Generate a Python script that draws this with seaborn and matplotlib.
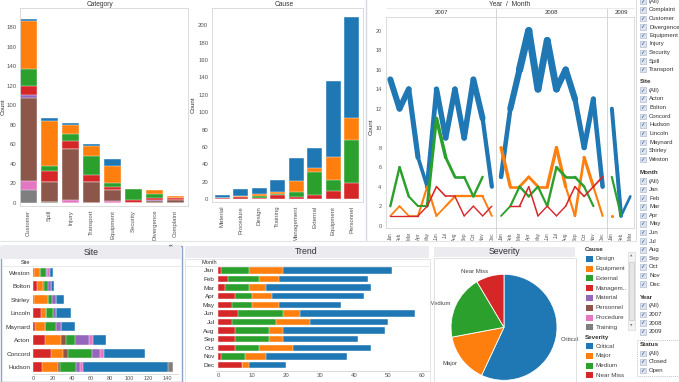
import numpy as np
import matplotlib
matplotlib.use("Agg")
import matplotlib.pyplot as plt
import matplotlib.transforms as mtransforms
from matplotlib.patches import Rectangle
from matplotlib.lines import Line2D
import seaborn as sns

# ----------------------------------------------------------
# Data
# ----------------------------------------------------------
causes = ["Design", "Equipment", "External", "Management",
          "Material", "Personnel", "Procedure", "Training"]
cause_legend_labels = ["Design", "Equipment", "External", "Managem..",
                       "Material", "Personnel", "Procedure", "Training"]
severities = ["Critical", "Major", "Medium", "Near Miss"]
months = ["Jan", "Feb", "Mar", "Apr", "May", "Jun",
          "Jul", "Aug", "Sep", "Oct", "Nov", "Dec"]

# Category chart (count by category, stacked by cause)
categories = ["Customer", "Spill", "Injury", "Transport",
              "Equipment", "Security", "Divergence", "Complaint"]
cat_design = [2, 3, 2, 2, 7, 0, 0, 0]
cat_equipment = [49, 46, 10, 10, 18, 0, 4, 2]
cat_external = [17, 5, 7, 20, 4, 11, 4, 0]
cat_management = [10, 12, 8, 7, 3, 3, 2, 2]
cat_material = [3, 0, 0, 0, 0, 0, 1, 0]
cat_personnel = [85, 20, 52, 21, 11, 0, 2, 3]
cat_procedure = [9, 0, 3, 0, 2, 0, 0, 0]
cat_training = [13, 1, 0, 0, 0, 0, 0, 0]

# Cause chart (count by cause, stacked by severity)
cause_bars = ["Material", "Procedure", "Design", "Training",
              "Management", "External", "Equipment", "Personnel"]
cause_critical = [4, 9, 7, 14, 26, 23, 87, 117]
cause_major = [0, 1, 3, 2, 13, 5, 27, 25]
cause_medium = [0, 0, 2, 1, 6, 26, 13, 50]
cause_near_miss = [1, 2, 1, 5, 2, 5, 9, 18]

# Year / Month lines (count by severity)
nan = np.nan
crit_2007 = [15, 12, 14, 7, 4, 14, 9, 14, 9, 15, 11, 4]
major_2007 = [1, 2, 1, 1, 4, 1, 2, 3, 3, 3, 3, 1]
medium_2007 = [2, 6, 3, 2, 2, 11, 7, 5, 5, 3, 5, nan]
near_2007 = [1, 1, 1, 1, 2, 4, 3, 3, 1, 2, 1, 2]
crit_2008 = [5, 12, 16, 20, 14, 19, 14, 16, 13, 8, 13, 4]
major_2008 = [8, 4, 4, 5, 4, 4, 8, 4, 1, 7, 4, 1]
medium_2008 = [1, 2, 4, 3, 4, 2, 6, 5, 5, 4, 2, nan]
near_2008 = [nan, 2, 2, 4, 1, 2, 1, 2, 4, 3, 4, 5]
crit_2009 = [12, 1, 3]
major_2009 = [1, nan, nan]
medium_2009 = [5, 1, nan]
near_2009 = [nan, nan, nan]
years = ["2007", "2008", "2009"]

# Site chart (count by site, stacked by cause)
sites = ["Weston", "Bolton", "Shirley", "Lincoln",
         "Maynard", "Acton", "Concord", "Hudson"]
site_management = [1, 4, 1, 8, 2, 12, 19, 9]
site_equipment = [6, 6, 14, 5, 10, 17, 12, 17]
site_personnel = [0, 1, 0, 0, 0, 5, 5, 2]
site_external = [6, 4, 5, 8, 12, 10, 25, 17]
site_material = [1, 3, 4, 3, 5, 14, 9, 4]
site_procedure = [3, 0, 0, 0, 0, 4, 4, 3]
site_design = [4, 4, 8, 15, 15, 14, 43, 89]
site_training = [0, 0, 0, 0, 0, 0, 0, 5]

# Trend chart (count by month, stacked by severity)
trend_near_miss = [1, 3, 2, 5, 4, 6, 4, 5, 5, 5, 1, 7]
trend_medium = [8, 9, 7, 5, 6, 13, 13, 10, 10, 7, 7, 0]
trend_major = [10, 6, 5, 6, 8, 5, 10, 4, 4, 10, 6, 2]
trend_critical = [32, 26, 31, 27, 18, 34, 23, 30, 22, 23, 24, 11]

# Quick filter lists
filter_category = ["(All)", "Complaint", "Customer", "Divergence", "Equipment",
                   "Injury", "Security", "Spill", "Transport"]
filter_site = ["(All)", "Acton", "Bolton", "Concord", "Hudson",
               "Lincoln", "Maynard", "Shirley", "Weston"]
filter_month = ["(All)"] + months
filter_year = ["(All)", "2007", "2008", "2009"]
filter_status = ["(All)", "Closed", "Open"]

cause_colors = dict(zip(causes, ["#1f77b4", "#ff7f0e", "#2ca02c", "#d62728",
                                 "#9467bd", "#8c564b", "#e377c2", "#7f7f7f"]))
sev_colors = dict(zip(severities, ["#1f77b4", "#ff7f0e", "#2ca02c", "#d62728"]))

# ----------------------------------------------------------
# Figure + helpers (pixel coordinates, origin top-left)
# ----------------------------------------------------------
sns.set_style("white")
plt.rcParams["font.family"] = ["Liberation Sans", "DejaVu Sans"]

W, H = 679, 382
fig = plt.figure(figsize=(W / 100, H / 100), dpi=100)
TXT = "#333333"
GRID = "#d6d6d6"


def box(x0, y0, x1, y1):
    return [x0 / W, 1 - y1 / H, (x1 - x0) / W, (y1 - y0) / H]


def ftext(x, y, s, **kw):
    fig.text(x / W, 1 - y / H, s, **kw)


def frect(x0, y0, x1, y1, **kw):
    fig.add_artist(Rectangle((x0 / W, 1 - y1 / H), (x1 - x0) / W, (y1 - y0) / H,
                             transform=fig.transFigure, **kw))


def fline(xs, ys, **kw):
    fig.add_artist(Line2D([x / W for x in xs], [1 - y / H for y in ys],
                          transform=fig.transFigure, **kw))


def style_ax(ax, size=4.3):
    for s in ax.spines.values():
        s.set_color(GRID)
        s.set_linewidth(0.6)
    ax.tick_params(labelsize=size, colors="#555555", length=1.5, width=0.4, pad=1.5)
    ax.set_xlabel("")
    ax.set_ylabel("")


def stacked(ax, cats, layers, colors, horizontal=False, width=0.8):
    cum = np.cumsum(np.array(layers, dtype=float), axis=0)
    for vals, col in zip(cum[::-1], colors[::-1]):
        if horizontal:
            sns.barplot(x=vals, y=cats, order=cats, orient="h", color=col, width=width,
                        saturation=1, errorbar=None, edgecolor="white", linewidth=0.3, ax=ax)
        else:
            sns.barplot(x=cats, y=vals, order=cats, color=col, width=width,
                        saturation=1, errorbar=None, edgecolor="white", linewidth=0.3, ax=ax)


# ----------------------------------------------------------
# 1. Category
# ----------------------------------------------------------
ax1 = fig.add_axes(box(20, 8, 188, 205.7))
cat_layers = [cat_training, cat_procedure, cat_personnel, cat_material,
              cat_management, cat_external, cat_equipment, cat_design]
cat_cols = [cause_colors[c] for c in ["Training", "Procedure", "Personnel", "Material",
                                      "Management", "External", "Equipment", "Design"]]
stacked(ax1, categories, cat_layers, cat_cols, width=0.82)
ax1.set_xlim(-0.41, 7.59)
ax1.set_ylim(-3, 199.5)
ax1.set_yticks(range(0, 181, 20))
style_ax(ax1)
ax1.tick_params(axis="x", labelrotation=90)
ax1.tick_params(axis="y", pad=1)
ftext(100, 4, "Category", fontsize=4.8, color=TXT, ha="center", va="center")
ftext(3, 107, "Count", fontsize=4.5, color=TXT, rotation=90, ha="center", va="center")

# ----------------------------------------------------------
# 2. Cause
# ----------------------------------------------------------
ax2 = fig.add_axes(box(211.7, 8.3, 363, 201.7))
stacked(ax2, cause_bars, [cause_near_miss, cause_medium, cause_major, cause_critical],
        [sev_colors[s] for s in ["Near Miss", "Medium", "Major", "Critical"]], width=0.8)
ax2.set_xlim(-0.57, 7.61)
ax2.set_ylim(-3, 219.6)
ax2.set_yticks(range(0, 201, 20))
style_ax(ax2)
ax2.tick_params(axis="x", labelrotation=90)
ax2.tick_params(axis="y", pad=1)
ftext(284, 4, "Cause", fontsize=4.8, color=TXT, ha="center", va="center")
ftext(193.5, 105, "Count", fontsize=4.5, color=TXT, rotation=90, ha="center", va="center")

# ----------------------------------------------------------
# 3. Year / Month lines
# ----------------------------------------------------------
ax3 = fig.add_axes(box(385.7, 17, 634, 228))
line_series = {
    "Critical": [crit_2007, crit_2008, crit_2009],
    "Major": [major_2007, major_2008, major_2009],
    "Medium": [medium_2007, medium_2008, medium_2009],
    "Near Miss": [near_2007, near_2008, near_2009],
}
# line thickness grows with the count (Tableau size encoding)
width_rule = {"Critical": (1.5, 0.21), "Major": (0.9, 0.25),
              "Medium": (1.1, 0.16), "Near Miss": (0.9, 0.08)}
for sev, per_year in line_series.items():
    base, k = width_rule[sev]
    for yi, vals in enumerate(per_year):
        v = np.array(vals, dtype=float)
        xs = 12 * yi + np.arange(len(v))
        for i in range(len(v)):
            if np.isnan(v[i]):
                continue
            has_prev = i > 0 and not np.isnan(v[i - 1])
            has_next = i + 1 < len(v) and not np.isnan(v[i + 1])
            if has_next:
                ax3.plot(xs[i:i + 2], v[i:i + 2], color=sev_colors[sev],
                         lw=base + k * v[i:i + 2].mean(), solid_capstyle="round")
            elif not has_prev:
                ax3.plot(xs[i], v[i], "o", color=sev_colors[sev], ms=1.2)
ax3.set_xlim(-0.5, 26.4)
ax3.set_ylim(-0.24, 21.4)
ax3.set_yticks(range(0, 21, 2))
ax3.set_xticks(list(range(27)))
ax3.set_xticklabels(months + months + months[:3])
style_ax(ax3, size=4)
ax3.tick_params(axis="x", labelrotation=90, labelsize=3.4)
blend = mtransforms.blended_transform_factory(ax3.transData, fig.transFigure)
for xsep in [11.5, 23.5]:
    fig.add_artist(Line2D([xsep, xsep], [1 - 8 / H, 1 - 238 / H], transform=blend,
                          color="#cfcfcf", lw=0.6))
for yi, yr in enumerate(years):
    fig.text(12 * yi + 5.5 if yi < 2 else 25, 1 - 12.3 / H, yr, transform=blend,
             fontsize=4.3, color=TXT, ha="center", va="center")
fline([386, 634], [8, 8], color="#e2e2e2", lw=0.5)
ftext(510, 4, "Year  /  Month", fontsize=4.8, color=TXT, ha="center", va="center")
ftext(371, 127, "Count", fontsize=4.5, color=TXT, rotation=90, ha="center", va="center")

# panel borders on the top row
fline([365.5, 365.5], [0, 240], color="#d4dbe6", lw=1.0)
fline([0, 636], [240.5, 240.5], color="#e4e4e4", lw=0.8)
fline([635.5, 635.5], [0, 240], color="#d4d4d4", lw=0.6)

# ----------------------------------------------------------
# 4. Site
# ----------------------------------------------------------
frect(0.5, 245.5, 181.5, 381.5, fill=False, edgecolor="#8da2c9", lw=1.0)
frect(1.2, 246.2, 180.8, 259, facecolor="#ececf0", edgecolor="none")
ftext(91, 252.5, "Site", fontsize=6.3, color=TXT, ha="center", va="center")
ftext(172, 246.5, "▾✕", fontsize=2.8, color="#555555", ha="center", va="center",
      family=["DejaVu Sans"])
ftext(25, 262.3, "Site", fontsize=4, color=TXT, ha="center", va="center")
fline([1.5, 180.5], [265.5, 265.5], color="#e0e0e0", lw=0.5)
ax4 = fig.add_axes(box(33, 264, 178, 374.2))
site_layers = [site_management, site_equipment, site_personnel, site_external,
               site_material, site_procedure, site_design, site_training]
site_cols = [cause_colors[c] for c in ["Management", "Equipment", "Personnel", "External",
                                       "Material", "Procedure", "Design", "Training"]]
stacked(ax4, sites, site_layers, site_cols, horizontal=True, width=0.7)
ax4.set_xlim(-0.3, 151.2)
ax4.set_ylim(7.52, -0.64)
ax4.set_xticks(range(0, 141, 20))
style_ax(ax4)
ax4.tick_params(axis="x", labelsize=4, length=0.8, pad=0.6)
ax4.tick_params(axis="y", labelsize=4.6, colors="#333333", length=0, pad=2)
for s in ["top", "right", "left"]:
    ax4.spines[s].set_visible(False)

# ----------------------------------------------------------
# 5. Trend
# ----------------------------------------------------------
frect(184.7, 246, 429, 258, facecolor="#ececf0", edgecolor="none")
ftext(306, 252, "Trend", fontsize=6.3, color=TXT, ha="center", va="center")
frect(184.7, 259, 429.5, 381.5, fill=False, edgecolor="#e0e0e0", lw=0.6)
ftext(209, 262.3, "Month", fontsize=4, color=TXT, ha="center", va="center")
fline([185, 429], [266, 266], color="#e0e0e0", lw=0.5)
ax5 = fig.add_axes(box(216, 264, 429, 370.7))
stacked(ax5, months, [trend_near_miss, trend_medium, trend_major, trend_critical],
        [sev_colors[s] for s in ["Near Miss", "Medium", "Major", "Critical"]],
        horizontal=True, width=0.75)
ax5.set_xlim(-0.59, 62)
ax5.set_ylim(11.66, -0.73)
ax5.set_xticks(range(0, 61, 10))
style_ax(ax5)
ax5.tick_params(axis="x", length=1, pad=1)
ax5.tick_params(axis="y", labelsize=4.6, colors="#333333", length=0, pad=1)
for s in ["top", "right", "left"]:
    ax5.spines[s].set_visible(False)

# ----------------------------------------------------------
# 6. Severity pie
# ----------------------------------------------------------
frect(434, 247, 575, 257, facecolor="#ececf0", edgecolor="none")
ftext(504, 252, "Severity", fontsize=6.3, color=TXT, ha="center", va="center")
frect(434, 258, 575.5, 381.5, fill=False, edgecolor="#dcdcdc", lw=0.6)
sev_totals = [sum(cause_critical), sum(cause_major), sum(cause_medium), sum(cause_near_miss)]
ax6 = fig.add_axes(box(451, 274.3, 557, 380.3))
ax6.pie(sev_totals, labels=severities, colors=[sev_colors[s] for s in severities],
        startangle=90, counterclock=False, labeldistance=1.1,
        wedgeprops=dict(edgecolor="white", linewidth=0.6),
        textprops=dict(fontsize=4.3, color="#444444"))
ax6.set_xlim(-1, 1)
ax6.set_ylim(-1, 1)

# ----------------------------------------------------------
# 7. Colour legends
# ----------------------------------------------------------
ftext(585, 249.7, "Cause", fontsize=4.5, color=TXT, fontweight="bold", va="center")
for i, (c, lab) in enumerate(zip(causes, cause_legend_labels)):
    y = 258.7 + 9.8 * i
    frect(586, y - 3, 592.5, y + 3, facecolor=cause_colors[c], edgecolor="none")
    ftext(596, y, lab, fontsize=4.5, color="#444444", va="center")
frect(628, 252, 634.5, 330, facecolor="#f3f3f3", edgecolor="#d0d0d0", lw=0.4)
frect(628.8, 262, 633.7, 320, facecolor="#e6e6e6", edgecolor="#c0c0c0", lw=0.4)
ftext(631.2, 256, "▲", fontsize=2.2, color="#777777", ha="center", va="center",
      family=["DejaVu Sans"])
ftext(631.2, 326, "▼", fontsize=2.2, color="#777777", ha="center", va="center",
      family=["DejaVu Sans"])
ftext(585, 337.3, "Severity", fontsize=4.5, color=TXT, fontweight="bold", va="center")
for i, s in enumerate(severities):
    y = 346.3 + 9.7 * i
    frect(586, y - 3, 592.5, y + 3, facecolor=sev_colors[s], edgecolor="none")
    ftext(596, y, s, fontsize=4.5, color="#444444", va="center")

# ----------------------------------------------------------
# 8. Quick filters
# ----------------------------------------------------------


def checkbox_list(labels, y0, step):
    for i, lab in enumerate(labels):
        y = y0 + step * i
        frect(640, y - 2.8, 645.6, y + 2.8, facecolor="#dde4ee", edgecolor="#9fb0c8", lw=0.4)
        ftext(642.8, y, "✓", fontsize=4, color="#2b4a8a", ha="center", va="center",
              family=["DejaVu Sans"])
        ftext(649, y, lab, fontsize=4.3, color=TXT, va="center")


checkbox_list(filter_category, 1.5, 8.5)
ftext(640, 81.7, "Site", fontsize=4.5, color=TXT, fontweight="bold", va="center")
checkbox_list(filter_site, 90.3, 8.67)
ftext(640, 172.3, "Month", fontsize=4.5, color=TXT, fontweight="bold", va="center")
checkbox_list(filter_month, 181, 8.6)
ftext(640, 297.3, "Year", fontsize=4.5, color=TXT, fontweight="bold", va="center")
checkbox_list(filter_year, 306, 8.57)
frect(637, 339.7, 678.5, 376, fill=False, edgecolor="#b0b0b0", lw=0.5, linestyle=(0, (1.5, 1.5)))
ftext(640, 344.7, "Status", fontsize=4.5, color=TXT, fontweight="bold", va="center")
checkbox_list(filter_status, 353.3, 8.5)

fig.savefig("out.png", dpi=100)
